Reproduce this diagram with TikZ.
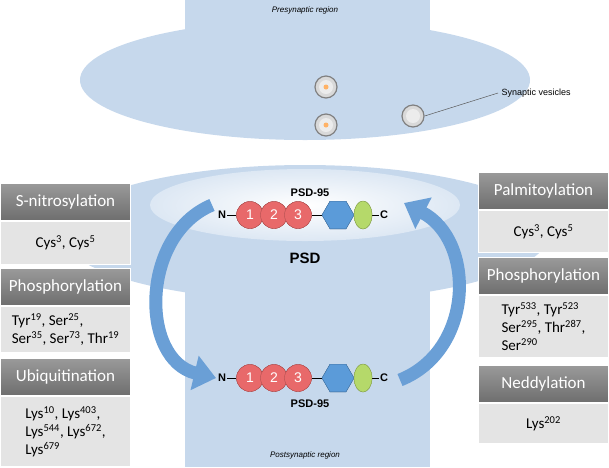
\documentclass[tikz,border=0pt]{standalone}
\usepackage{fontspec}
\setmainfont{Carlito}
\newfontfamily\arial{Liberation Sans}
\usetikzlibrary{shapes.geometric,arrows.meta}
\definecolor{mem}{HTML}{C6D8EC}
\definecolor{hdr}{HTML}{6E6E6E}
\definecolor{bdy}{HTML}{E4E4E4}
\definecolor{dom}{HTML}{E8696A}
\definecolor{hexc}{HTML}{5B9BD9}
\definecolor{grn}{HTML}{B5D96A}
\definecolor{arr}{HTML}{6A9FD6}
\tikzset{
 hd/.style={draw=white,line width=1pt,top color=hdr!70,bottom color=hdr,text=white,minimum width=130pt,minimum height=37pt,anchor=north west,font=\fontsize{17}{19}\selectfont,inner sep=0pt},
 bd/.style={draw=white,line width=1pt,fill=bdy,minimum width=130pt,anchor=north west,font=\fontsize{15}{18}\selectfont,align=left,inner sep=4pt},
 pd/.style={circle,draw=dom!70!black,line width=0.3pt,fill=dom,minimum size=27pt,inner sep=0pt,text=white,font=\arial\fontsize{14}{14}\selectfont},
 hx/.style={regular polygon,regular polygon sides=6,fill=hexc,draw=hexc!70!black,line width=0.3pt,minimum size=32pt,inner sep=0pt},
 el/.style={ellipse,fill=grn,draw=grn!70!black,line width=0.3pt,minimum width=18pt,minimum height=28pt,inner sep=0pt},
 tm/.style={font=\arial\bfseries\fontsize{11}{11}\selectfont,inner sep=1pt},
 ves/.style={circle,draw=gray,line width=1.2pt,fill=gray!30,minimum size=22pt,inner sep=0pt},
 bigarr/.style={arr,line width=13pt,-{Triangle[length=22pt,width=34pt]}},
}
\begin{document}
\begin{tikzpicture}[x=1pt,y=-1pt]
\useasboundingbox (0,0) rectangle (609,467);
% presynaptic
\fill[mem] (185,0) rectangle (430,40);
\fill[mem] (305,80) ellipse [x radius=225,y radius=60];
\node[font=\arial\itshape\fontsize{8}{8}\selectfont] (pre) at (305,10) {Presynaptic region};
\node[ves] (v1) at (326,87) {};
\node[ves] (v2) at (326,125) {};
\node[ves] (v3) at (413,116) {};
\fill[gray!15] (v1) circle (7);\fill[gray!15] (v2) circle (7);\fill[gray!15] (v3) circle (7);
\fill[orange!60] (v1) circle (2.5);
\fill[orange!60] (v2) circle (2.5);
\node[anchor=west,font=\arial\fontsize{9}{9}\selectfont] (sv) at (498,93) {Synaptic vesicles};
\draw[gray!70!black,line width=0.5pt] (v3.east) -- (sv.west);
% postsynaptic
\fill[mem] (305,233) ellipse [x radius=245,y radius=68];
\fill[mem] (185,240) rectangle (430,467);
\shade[inner color=white,outer color=mem!60] (305,205) ellipse [x radius=155,y radius=36];
\node[font=\arial\bfseries\fontsize{15}{15}\selectfont] (psd) at (305,258) {PSD};
\node[font=\arial\itshape\fontsize{8}{8}\selectfont] (post) at (305,455) {Postsynaptic region};
% top protein
\node[tm] (n1) at (222,215) {N};
\node[pd] (a1) at (250,215) {1};
\node[pd] (a2) at (274,215) {2};
\node[pd] (a3) at (298,215) {3};
\node[hx] (h1) at (338,215) {};
\node[el] (e1) at (363,215) {};
\node[tm] (c1) at (384,215) {C};
\node[tm] (l1) at (310,193) {PSD-95};
\draw[line width=1pt] (n1) -- (a1) (a3) -- (h1) (h1) -- (e1) (e1) -- (c1);
\node[pd] at (250,215) {1};\node[pd] at (274,215) {2};\node[pd] at (298,215) {3};
\node[hx] at (338,215) {};\node[el] at (363,215) {};
% bottom protein
\node[tm] (n2) at (222,378) {N};
\node[pd] (b1) at (250,378) {1};
\node[pd] (b2) at (274,378) {2};
\node[pd] (b3) at (298,378) {3};
\node[hx] (h2) at (338,378) {};
\node[el] (e2) at (363,378) {};
\node[tm] (c2) at (384,378) {C};
\node[tm] (l2) at (310,404) {PSD-95};
\draw[line width=1pt] (n2) -- (b1) (b3) -- (h2) (h2) -- (e2) (e2) -- (c2);
\node[pd] at (250,378) {1};\node[pd] at (274,378) {2};\node[pd] at (298,378) {3};
\node[hx] at (338,378) {};\node[el] at (363,378) {};
% arrows
\coordinate (s1) at (212,205);
\coordinate (t1) at (216,378);
\coordinate (s2) at (400,380);
\coordinate (t2) at (404,203);
\draw[bigarr] (s1) .. controls (140,235) and (140,360) .. (t1);
\draw[bigarr] (s2) .. controls (475,350) and (475,240) .. (t2);
% left boxes
\node[hd] (sn) at (0,183) {S-nitrosylation};
\node[bd,minimum height=43pt,align=center] (snb) at (sn.south west) {Cys\textsuperscript{3}, Cys\textsuperscript{5}};
\node[hd] (ph) at (0,268) {Phosphorylation};
\node[bd,minimum height=46pt] (phb) at (ph.south west) {Tyr\textsuperscript{19}, Ser\textsuperscript{25},\\Ser\textsuperscript{35}, Ser\textsuperscript{73}, Thr\textsuperscript{19}};
\node[hd] (ub) at (0,358) {Ubiquitination};
\node[bd,minimum height=70pt] (ubb) at (ub.south west) {Lys\textsuperscript{10}, Lys\textsuperscript{403},\\Lys\textsuperscript{544}, Lys\textsuperscript{672},\\Lys\textsuperscript{679}};
% right boxes
\node[hd] (pa) at (478,172) {Palmitoylation};
\node[bd,minimum height=42pt,align=center] (pab) at (pa.south west) {Cys\textsuperscript{3}, Cys\textsuperscript{5}};
\node[hd] (ph2) at (478,257) {Phosphorylation};
\node[bd,minimum height=62pt] (ph2b) at (ph2.south west) {Tyr\textsuperscript{533}, Tyr\textsuperscript{523}\\Ser\textsuperscript{295}, Thr\textsuperscript{287},\\Ser\textsuperscript{290}};
\node[hd] (ne) at (478,365) {Neddylation};
\node[bd,minimum height=40pt,align=center] (neb) at (ne.south west) {Lys\textsuperscript{202}};
\end{tikzpicture}
\end{document}
